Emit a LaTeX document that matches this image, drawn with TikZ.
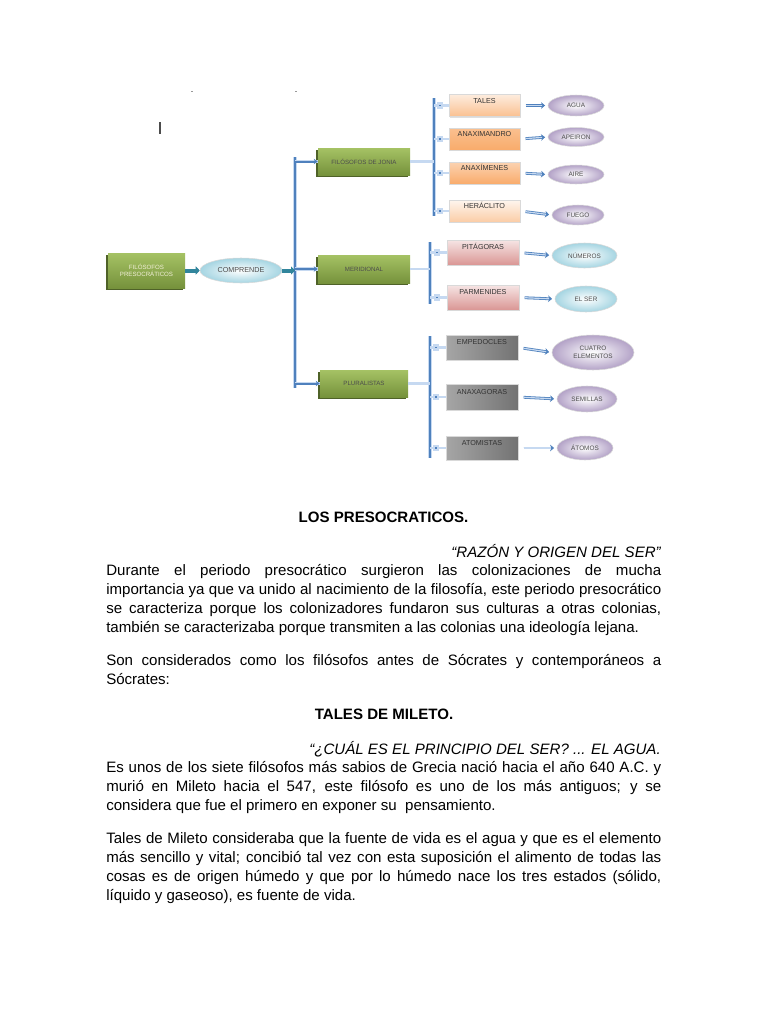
\documentclass[tikz,border=0pt]{standalone}
\usepackage{fontspec}
\setmainfont{Liberation Sans}
\usetikzlibrary{arrows.meta,positioning,shapes.geometric,shadows}

\definecolor{jgreen}{HTML}{A5C264}
\definecolor{jgreendk}{HTML}{76923C}
\definecolor{jgreensh}{HTML}{4F6228}
\definecolor{barblue}{HTML}{4F81BD}
\definecolor{barlight}{HTML}{C6D9F1}
\definecolor{peach}{HTML}{FAC090}
\definecolor{naranja}{HTML}{F79646}
\definecolor{rosa}{HTML}{DA9694}
\definecolor{lila}{HTML}{B3A2C7}
\definecolor{celeste}{HTML}{A5D5E2}
\definecolor{flecha}{HTML}{31859C}
\definecolor{tostado}{HTML}{F2EFD8}

\begin{document}
\begin{tikzpicture}[
  x=0.75pt, y=-0.75pt,
  grupo/.style={rectangle, top color=jgreen, bottom color=jgreendk,
    general shadow={fill=jgreensh, shadow xshift=-1.8pt, shadow yshift=-1.8pt},
    font=\fontsize{4.6}{5.6}\selectfont, text=black!70, align=center, inner sep=1pt},
  filo/.style={rectangle, draw=black!15, font=\fontsize{5.4}{6}\selectfont,
    text=black!80, inner sep=1pt, text height=4pt, text depth=8.3pt,
    drop shadow={opacity=0.25, shadow xshift=0.8pt, shadow yshift=-0.8pt}},
  gris/.style={filo, left color=black!35, middle color=black!8, right color=black!55},
  idea/.style={ellipse, inner sep=0pt, draw=black!15, align=center,
    font=\fontsize{4.8}{6}\selectfont, text=black!70},
  barra/.style={draw=barblue, line width=1.6pt, preaction={draw=barlight, line width=3.6pt}},
  ramal/.style={draw=barlight, line width=1.6pt},
  marca/.style={rectangle, fill=barblue, draw=barlight, minimum size=3pt, inner sep=0pt},
  enlace/.style={draw=barblue, line width=1.5pt, -{Stealth[length=3pt,width=4pt]},
    preaction={draw=barlight, line width=2.6pt, -}},
  doble/.style={draw=barblue, double=barlight, double distance=0.9pt, line width=0.6pt,
    -{Stealth[length=3pt,width=5pt]}, shorten <=4pt, shorten >=2pt},
  flechota/.style={draw=flecha, line width=3pt, -{Triangle[length=3pt,width=6pt]}},
  cuerpo/.style={text width=416.25pt, align=justify, inner sep=0pt, anchor=base west,
    font=\fontsize{11.3}{14.25}\selectfont},
  titulo/.style={inner sep=0pt, anchor=base, font=\fontsize{11.3}{14.25}\selectfont\bfseries},
  cita/.style={inner sep=0pt, anchor=base east, font=\fontsize{11.3}{14.25}\selectfont\itshape}
]
\fill[white] (0,0) rectangle (768,1024);
\useasboundingbox (0,0) rectangle (768,1024);

% stray marks of the scan
\draw[black!70, line width=0.8pt] (160,122) -- (160,134);
\draw[black!40, line width=0.5pt] (191,91) -- (193,91);
\draw[black!40, line width=0.5pt] (295,91) -- (297,91);

% root and first level
\node[grupo, minimum width=57.75pt, minimum height=26.25pt, text=tostado] (presoc) at (146.5,270.5) {FILÓSOFOS\\PRESOCRÁTICOS};
\node[idea, inner color=white, outer color=celeste, minimum width=61.5pt, minimum height=18.75pt,
  font=\fontsize{5.4}{6}\selectfont] (comprende) at (241,270.5) {COMPRENDE};
\draw[flechota] (presoc) -- (comprende);

\coordinate (mtop) at (295,157);
\coordinate (mbot) at (295,388);
\draw[barra] (mtop) -- (mbot);
\draw[flechota] (comprende.east) -- (mtop |- comprende.east);

\node[grupo, minimum width=69pt, minimum height=20.25pt] (jonia) at (364,161.5) {FILÓSOFOS DE JONIA};
\node[grupo, minimum width=69pt, minimum height=21pt] (meridional) at (364,269) {MERIDIONAL};
\node[grupo, minimum width=66pt, minimum height=20.25pt] (pluralistas) at (364,383.5) {PLURALISTAS};
\foreach \n in {jonia,meridional,pluralistas}
  \draw[enlace] (mtop |- \n.west) -- (\n.west);

% filosofos de jonia
\node[filo, top color=peach!30, bottom color=peach, minimum width=53.25pt, minimum height=16.5pt, text depth=7.5pt] (tales) at (484.5,105.5) {TALES};
\node[filo, top color=peach, bottom color=naranja!80, minimum width=53.25pt, minimum height=16.5pt, text depth=7.5pt] (anaximandro) at (484.5,139) {ANAXIMANDRO};
\node[filo, top color=peach!70, bottom color=naranja!80, minimum width=53.25pt, minimum height=16.5pt, text depth=7.5pt] (anaximenes) at (484.5,173) {ANAXÍMENES};
\node[filo, top color=peach!15, bottom color=peach!80, minimum width=53.25pt, minimum height=16.5pt, text depth=7.5pt] (heraclito) at (484.5,211) {HERÁCLITO};

\node[idea, inner color=white, outer color=lila, minimum width=42pt, minimum height=15.75pt] (agua) at (576,105.5) {AGUA};
\node[idea, inner color=white, outer color=lila, minimum width=42pt, minimum height=14.25pt] (apeiron) at (576,137) {APEIRON};
\node[idea, inner color=white, outer color=lila, minimum width=42pt, minimum height=14.25pt] (aire) at (576,174.5) {AIRE};
\node[idea, inner color=white, outer color=lila, minimum width=39pt, minimum height=15pt] (fuego) at (578,215) {FUEGO};

\coordinate (jtop) at (434,98);
\coordinate (jbot) at (434,216);
\draw[barra] (jtop) -- (jbot);
\draw[ramal] (jonia.east) -- (jtop |- jonia.east);
\foreach \n in {tales,anaximandro,anaximenes,heraclito}
  \draw[ramal] (jtop |- \n.west) -- node[marca, pos=0.4]{} (\n.west);

% meridional
\node[filo, top color=rosa!25, bottom color=rosa, minimum width=54pt, minimum height=18.75pt] (pitagoras) at (483,252.5) {PITÁGORAS};
\node[filo, top color=rosa!25, bottom color=rosa, minimum width=54pt, minimum height=18.75pt] (parmenides) at (483,297.5) {PARMENIDES};
\node[idea, inner color=white, outer color=celeste, minimum width=48.75pt, minimum height=18.75pt] (numeros) at (584.5,255.5) {NÚMEROS};
\node[idea, inner color=white, outer color=celeste, minimum width=46.5pt, minimum height=19.5pt] (elser) at (586,299) {EL SER};

\coordinate (rtop) at (430,242);
\coordinate (rbot) at (430,304);
\draw[barra] (rtop) -- (rbot);
\draw[ramal] (meridional.east) -- (rtop |- meridional.east);
\foreach \n in {pitagoras,parmenides}
  \draw[ramal] (rtop |- \n.west) -- node[marca, pos=0.4]{} (\n.west);

% pluralistas
\node[gris, minimum width=54pt, minimum height=18.75pt] (empedocles) at (482,347.5) {EMPEDOCLES};
\node[gris, minimum width=54pt, minimum height=19.5pt] (anaxagoras) at (482,397) {ANAXAGORAS};
\node[gris, minimum width=54pt, minimum height=18pt] (atomistas) at (482,448) {ATOMISTAS};
\node[idea, inner color=white, outer color=lila, minimum width=61.5pt, minimum height=26.25pt] (cuatro) at (593,352.5) {CUATRO\\ELEMENTOS};
\node[idea, inner color=white, outer color=lila, minimum width=45pt, minimum height=19.5pt] (semillas) at (587,399) {SEMILLAS};
\node[idea, inner color=white, outer color=lila, minimum width=42pt, minimum height=18pt] (atomos) at (585,448) {ÁTOMOS};

\coordinate (ptop) at (430,336);
\coordinate (pbot) at (430,458);
\draw[barra] (ptop) -- (pbot);
\draw[ramal] (pluralistas.east) -- (ptop |- pluralistas.east);
\foreach \n in {empedocles,anaxagoras,atomistas}
  \draw[ramal] (ptop |- \n.west) -- node[marca, pos=0.4]{} (\n.west);

\foreach \a/\b in {tales/agua,anaximandro/apeiron,anaximenes/aire,heraclito/fuego,
    pitagoras/numeros,parmenides/elser,empedocles/cuatro,anaxagoras/semillas,atomistas/atomos}
  \draw[doble] (\a.east) -- (\b.west);

% texto
\node[titulo] (t1) at (383.5,522) {LOS PRESOCRATICOS.};
\node[cita] (c1) at (661,557) {“RAZÓN Y ORIGEN DEL SER”};
\node[cuerpo] (p1) at (106,575) {Durante el periodo presocrático surgieron las colonizaciones de mucha\linebreak
importancia ya que va unido al nacimiento de la filosofía, este periodo presocrático\linebreak
se caracteriza porque los colonizadores fundaron sus culturas a otras colonias,\linebreak
también se caracterizaba porque transmiten a las colonias una ideología lejana.};
\node[cuerpo] (p2) at (106,665) {Son considerados como los filósofos antes de Sócrates y contemporáneos a\linebreak
Sócrates:};
\node[titulo] (t2) at (384,719) {TALES DE MILETO.};
\node[cita] (c2) at (661,754) {“¿CUÁL ES EL PRINCIPIO DEL SER? ... EL AGUA.};
\node[cuerpo] (p3) at (106,772) {Es unos de los siete filósofos más sabios de Grecia nació hacia el año 640 A.C. y\linebreak
murió en Mileto hacia el 547, este filósofo es uno de los más antiguos; y se\linebreak
considera que fue el primero en exponer su~ pensamiento.};
\node[cuerpo] (p4) at (106,843) {Tales de Mileto consideraba que la fuente de vida es el agua y que es el elemento\linebreak
más sencillo y vital; concibió tal vez con esta suposición el alimento de todas las\linebreak
cosas es de origen húmedo y que por lo húmedo nace los tres estados (sólido,\linebreak
líquido y gaseoso), es fuente de vida.};
\end{tikzpicture}
\end{document}
